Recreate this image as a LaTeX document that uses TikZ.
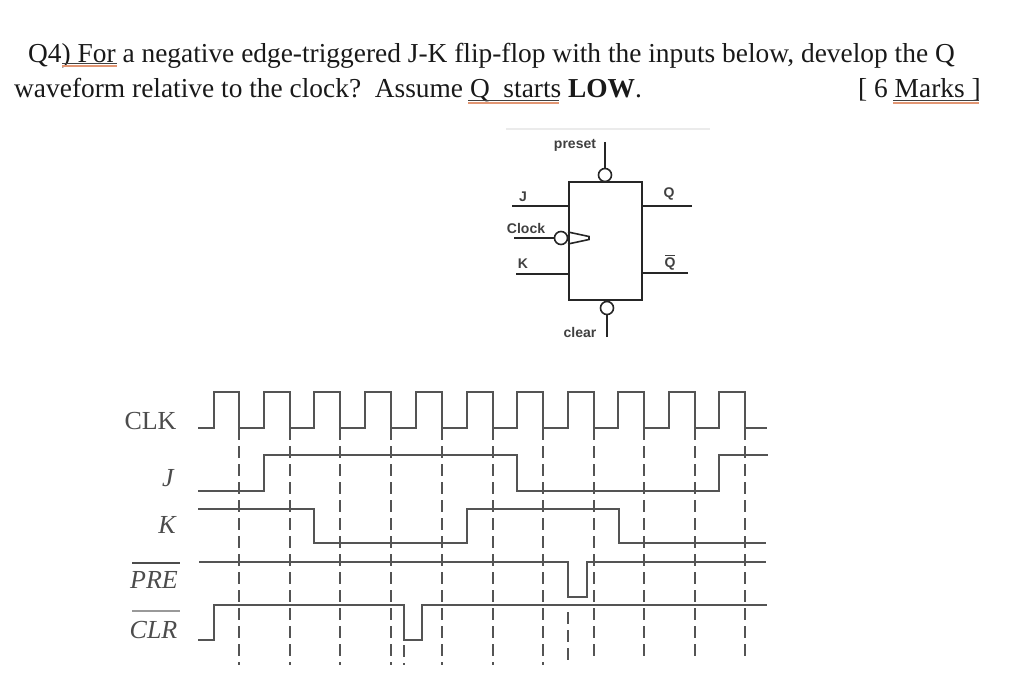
\documentclass[tikz,border=0pt]{standalone}
\usepackage{fontspec}
\setmainfont{Liberation Serif}
\newfontfamily\pinfont{Liberation Sans}
\usetikzlibrary{positioning}
\definecolor{wavegray}{gray}{0.33}
\definecolor{spellred}{RGB}{226,150,115}
\tikzset{
	wave/.style={draw=wavegray,line width=2pt},
	tick/.style={draw=wavegray,line width=1.3pt,dash pattern=on 12pt off 6pt},
	pin/.style={draw=black!85,line width=1.6pt},
	bubble/.style={circle,draw=black!85,line width=1.6pt,fill=white,inner sep=0pt,minimum size=13pt},
	pinlabel/.style={font=\pinfont\bfseries\fontsize{14}{14}\selectfont,text=black!75,inner sep=0pt},
	question/.style={anchor=base west,inner sep=0pt,font=\fontsize{27.4}{27.4}\selectfont,text=black!90},
	sigfont/.style={inner sep=0pt,text=black!70,font=\fontsize{26}{26}\selectfont\itshape},
	squiggle/.style={draw=spellred,line width=2.2pt},
	underbar/.style={draw=black!75,line width=0.8pt}
}
\begin{document}
\begin{tikzpicture}[x=1pt,y=-1pt]
	\useasboundingbox (0,0) rectangle (1024,679);

	% question text
	\node[question] (line1) at (28,62.8) {Q4) For a negative edge-triggered J-K flip-flop with the inputs below, develop the Q};
	\node[question] (line2) at (14,97.8) {waveform relative to the clock?\ \ Assume Q\ \ starts \textbf{LOW}.};
	\node[question] (marks) at (858,97.8) {[ 6 Marks ]};
	\draw[squiggle] (62,66) -- (117,66);
	\draw[squiggle] (468,103) -- (559,103);
	\draw[squiggle] (893,103) -- (979,103);
	\draw[underbar] (62,63.5) -- (117,63.5);
	\draw[underbar] (468,100) -- (559,100);
	\draw[underbar] (893,100) -- (979,100);

	% flip-flop
	\draw[black!8,line width=2pt] (506,129) -- (710,129);
	\node[draw=black!85,line width=1.7pt,minimum width=73pt,minimum height=118pt,inner sep=0pt] (ff) at (605.5,241) {};
	\node[bubble] (prebub) at (605,175) {};
	\node[bubble] (clrbub) at (607,308) {};
	\node[bubble] (clkbub) at (561,238) {};
	\coordinate (pretop) at (605,142);
	\coordinate (clrbot) at (607,337);
	\coordinate (jin) at (512,206);
	\coordinate (clkin) at (514,238);
	\coordinate (kin) at (516,274);
	\coordinate (qout) at (692,206);
	\coordinate (nqout) at (688,273);

	\path[pin] (pretop) edge (prebub);
	\path[pin] (clrbot) edge (clrbub);
	\path[pin] (jin) edge (jin -| ff.west);
	\path[pin] (clkin) edge (clkbub);
	\path[pin] (kin) edge (kin -| ff.west);
	\path[pin] (qout) edge (qout -| ff.east);
	\path[pin] (nqout) edge (nqout -| ff.east);
	\draw[pin] (568,232) -- (589,236.5) -- (589,239.5) -- (568,244);

	\node[pinlabel] (preset) at (575,145) {preset};
	\node[pinlabel] (clear) at (580,332) {clear};
	\node[pinlabel] (jlab) at (523,197) {J};
	\node[pinlabel] (clock) at (526,228) {Clock};
	\node[pinlabel] (klab) at (523,264) {K};
	\node[pinlabel] (qlab) at (669,194) {Q};
	\node[pinlabel] (nqlab) at (670,264) {Q};
	\draw[black!75,line width=1.2pt] (665,255.5) -- (675,255.5);

	% signal names
	\node[sigfont,font=\fontsize{26}{26}\selectfont] (clk) at (150.5,421) {CLK};
	\node[sigfont] (jname) at (168,478) {J};
	\node[sigfont] (kname) at (167,525) {K};
	\node[sigfont] (prename) at (154,580) {PRE};
	\node[sigfont] (clrname) at (153.5,630) {CLR};
	\draw[black!70,line width=1.2pt] (132,563) -- (180,563);
	\draw[black!40,line width=1.6pt] (132,611) -- (180,611);

	% timing lines
	\draw[tick] (239,428) -- (239,665);
	\draw[tick] (290,428) -- (290,665);
	\draw[tick] (340,428) -- (340,665);
	\draw[tick] (391,428) -- (391,665);
	\draw[tick] (442,428) -- (442,665);
	\draw[tick] (493,428) -- (493,665);
	\draw[tick] (543,428) -- (543,665);
	\draw[tick] (594,428) -- (594,660);
	\draw[tick] (644,428) -- (644,660);
	\draw[tick] (695,428) -- (695,660);
	\draw[tick] (745,428) -- (745,660);
	\draw[tick] (404,645) -- (404,665);
	\draw[tick] (568,612) -- (568,660);

	% waveforms
	\draw[wave] (198,428) -- (214,428) -- (214,392) -- (239,392) -- (239,428) -- (264,428) -- (264,392) -- (290,392) -- (290,428)
		-- (314,428) -- (314,392) -- (340,392) -- (340,428) -- (365,428) -- (365,392) -- (391,392) -- (391,428)
		-- (416,428) -- (416,392) -- (442,392) -- (442,428) -- (467,428) -- (467,392) -- (493,392) -- (493,428)
		-- (517,428) -- (517,392) -- (543,392) -- (543,428) -- (568,428) -- (568,392) -- (594,392) -- (594,428)
		-- (618,428) -- (618,392) -- (644,392) -- (644,428) -- (669,428) -- (669,392) -- (695,392) -- (695,428)
		-- (719,428) -- (719,392) -- (745,392) -- (745,428) -- (767,428);
	\draw[wave] (198,491) -- (264,491) -- (264,455) -- (517,455) -- (517,491) -- (719,491) -- (719,455) -- (768,455);
	\draw[wave] (198,509) -- (314,509) -- (314,543) -- (467,543) -- (467,509) -- (619,509) -- (619,543) -- (766,543);
	\draw[wave] (199,562) -- (568,562) -- (568,597) -- (587,597) -- (587,562) -- (766,562);
	\draw[wave] (198,640) -- (214,640) -- (214,605) -- (404,605) -- (404,640) -- (422,640) -- (422,605) -- (767,605);
\end{tikzpicture}
\end{document}
